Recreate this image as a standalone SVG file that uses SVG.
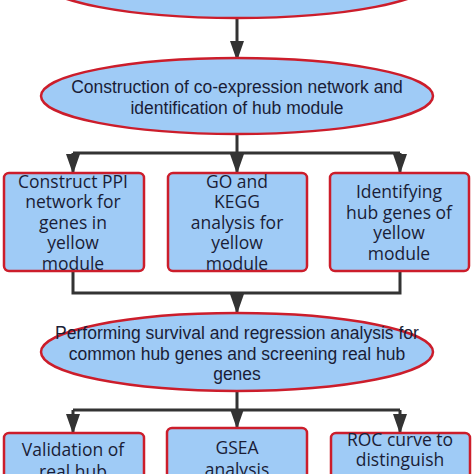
<svg xmlns="http://www.w3.org/2000/svg" width="474" height="474" viewBox="0 0 474 474">
<defs>
<style>
.ell{fill:#9fcbf6;stroke:#cc1d2b;stroke-width:2.5}
.box{fill:#9fcbf6;stroke:#cc1d2b;stroke-width:2.5}
.et{font-family:"Liberation Sans",Arial,sans-serif;font-size:17.5px;fill:#1a1d36;text-anchor:middle}
.bt{font-family:"Open Sans","Noto Sans",sans-serif;font-size:17.5px;fill:#1a1d36;text-anchor:middle}
.c{fill:none;stroke:#333;stroke-width:3}
.ah{fill:#333}
</style>
<marker id="arr" viewBox="0 0 20 14" refX="19" refY="7" markerWidth="20" markerHeight="14" markerUnits="userSpaceOnUse" orient="auto">
<path d="M0,0 L20,7 L0,14 z" class="ah"/>
</marker>
</defs>
<rect width="474" height="474" fill="#fff"/>
<g id="connectors">
<path class="c" d="M237,18 V60" marker-end="url(#arr)"/>
<path class="c" d="M237,134 V153 M73,153 H400"/>
<path class="c" d="M73,153 V173" marker-end="url(#arr)"/>
<path class="c" d="M237,153 V173" marker-end="url(#arr)"/>
<path class="c" d="M400,153 V173" marker-end="url(#arr)"/>
<path class="c" d="M73,271 V293 H400 V271"/>
<path class="c" d="M237,293 V313" marker-end="url(#arr)"/>
<path class="c" d="M237,391 V410 M73,410 H400"/>
<path class="c" d="M73,410 V433" marker-end="url(#arr)"/>
<path class="c" d="M237,410 V428" marker-end="url(#arr)"/>
<path class="c" d="M400,410 V433" marker-end="url(#arr)"/>
</g>
<g id="node-top">
<ellipse class="ell" cx="237" cy="-20" rx="196" ry="38"/>
</g>
<g id="node-coexpression">
<ellipse class="ell" cx="237" cy="96" rx="196" ry="38"/>
<text class="et" x="237" y="93">Construction of co-expression network and</text>
<text class="et" x="237" y="114">identification of hub module</text>
</g>
<g id="node-ppi">
<rect class="box" x="4" y="173" width="140" height="98" rx="5"/>
<text class="bt" x="73" y="188">Construct PPI</text>
<text class="bt" x="73" y="208">network for</text>
<text class="bt" x="73" y="229">genes in</text>
<text class="bt" x="73" y="249">yellow</text>
<text class="bt" x="73" y="270">module</text>
</g>
<g id="node-go">
<rect class="box" x="168" y="173" width="139" height="98" rx="5"/>
<text class="bt" x="237" y="188">GO and</text>
<text class="bt" x="237" y="208">KEGG</text>
<text class="bt" x="237" y="229">analysis for</text>
<text class="bt" x="237" y="249">yellow</text>
<text class="bt" x="237" y="270">module</text>
</g>
<g id="node-hub">
<rect class="box" x="330" y="173" width="139" height="98" rx="5"/>
<text class="bt" x="399" y="198">Identifying</text>
<text class="bt" x="399" y="219">hub genes of</text>
<text class="bt" x="399" y="239">yellow</text>
<text class="bt" x="399" y="260">module</text>
</g>
<g id="node-survival">
<ellipse class="ell" cx="237" cy="352" rx="196" ry="39"/>
<text class="et" x="237" y="339">Performing survival and regression analysis for</text>
<text class="et" x="237" y="360">common hub genes and screening real hub</text>
<text class="et" x="237" y="380">genes</text>
</g>
<g id="node-validation">
<rect class="box" x="4" y="433" width="140" height="60" rx="5"/>
<text class="bt" x="73" y="456">Validation of</text>
<text class="bt" x="73" y="478">real hub</text>
</g>
<g id="node-gsea">
<rect class="box" x="167" y="428" width="140" height="60" rx="5"/>
<text class="bt" x="237" y="454">GSEA</text>
<text class="bt" x="237" y="476">analysis</text>
</g>
<g id="node-roc">
<rect class="box" x="331" y="433" width="139" height="60" rx="5"/>
<text class="bt" x="400" y="446">ROC curve to</text>
<text class="bt" x="400" y="466">distinguish</text>
</g>
</svg>
